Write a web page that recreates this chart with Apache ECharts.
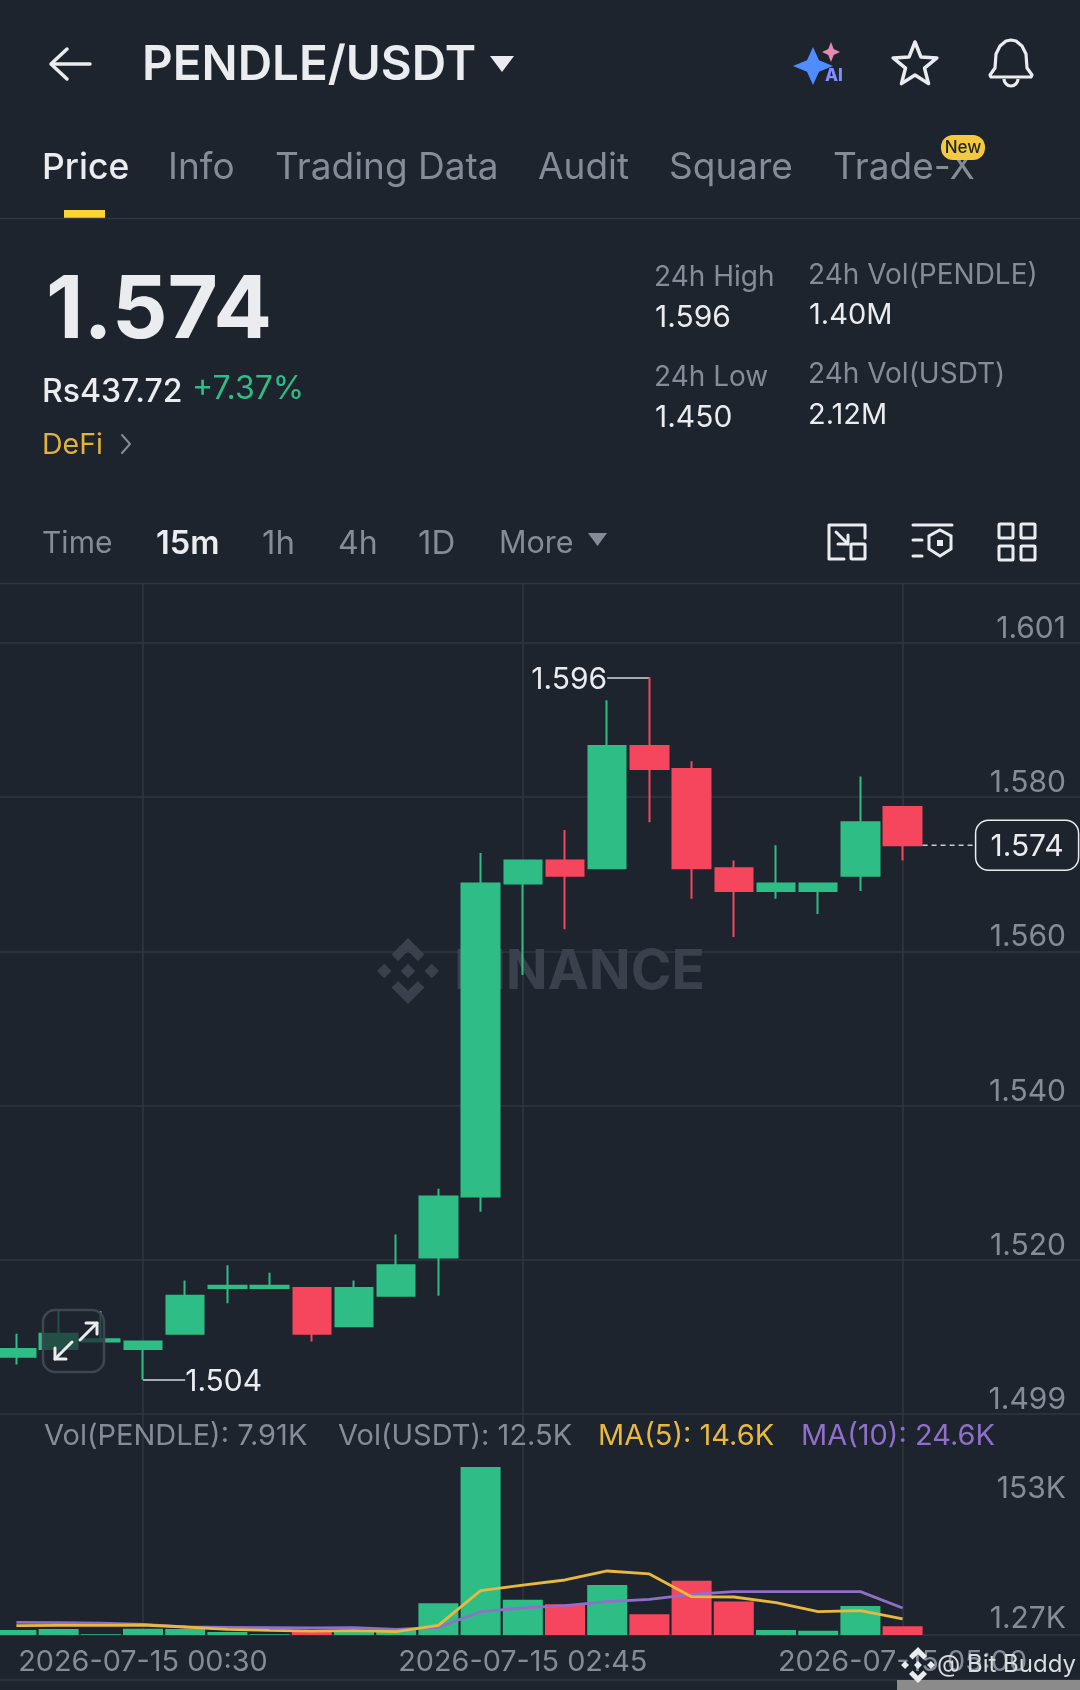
<!DOCTYPE html>
<html><head><meta charset="utf-8">
<style>html,body{margin:0;padding:0;background:#1e242e}#c{width:1080px;height:1690px}</style>
<script src="https://cdn.jsdelivr.net/npm/echarts@6/dist/echarts.min.js"></script>
</head><body><div id="c"></div>
<script>
const times = ['2026-07-14 23:45','2026-07-15 00:00','2026-07-15 00:15','2026-07-15 00:30','2026-07-15 00:45','2026-07-15 01:00','2026-07-15 01:15','2026-07-15 01:30','2026-07-15 01:45','2026-07-15 02:00','2026-07-15 02:15','2026-07-15 02:30','2026-07-15 02:45','2026-07-15 03:00','2026-07-15 03:15','2026-07-15 03:30','2026-07-15 03:45','2026-07-15 04:00','2026-07-15 04:15','2026-07-15 04:30','2026-07-15 04:45','2026-07-15 05:00','2026-07-15 05:15','2026-07-15 05:30','2026-07-15 05:45','2026-07-15 06:00'];
const opens  = [1.507,1.508,1.5090,1.508,1.510,1.5160,1.5160,1.516,1.511,1.515,1.520,1.528,1.569,1.572,1.571,1.587,1.584,1.571,1.568,1.568,1.570,1.579];
const closes = [1.508,1.510,1.5093,1.509,1.515,1.5163,1.5163,1.510,1.516,1.519,1.528,1.569,1.572,1.570,1.587,1.584,1.571,1.568,1.569,1.569,1.577,1.574];
const lows   = [1.506,1.507,1.5090,1.504,1.510,1.514,1.516,1.509,1.511,1.515,1.515,1.526,1.557,1.563,1.571,1.577,1.567,1.562,1.567,1.565,1.568,1.572];
const highs  = [1.510,1.513,1.513,1.509,1.517,1.519,1.518,1.516,1.517,1.523,1.529,1.573,1.572,1.576,1.593,1.596,1.585,1.572,1.574,1.569,1.583,1.579];
const volumes = [4500,5500,600,5800,5500,2700,600,4500,3300,4500,29000,153000,32000,28000,45500,18800,49500,30400,4500,3900,26400,7910];
const ma5  = [8500,8800,8800,9100,7300,5200,4200,3600,3900,3000,8800,40400,45500,50100,58300,55600,34900,34600,29400,21200,22200,14600];
const ma10 = [11500,11200,10900,9700,7300,7000,6700,6400,6700,5200,7000,21200,24600,26700,30400,32500,37000,39500,39500,39500,39500,24600];
const priceTicks  = [1.4995,1.5197,1.5399,1.5601,1.5803,1.6005];
const priceLabels = ['1.499','1.520','1.540','1.560','1.580','1.601'];
const volTicks  = [1270,153000];
const volLabels = ['1.27K','153K'];
const lastPrice = 1.574, highMark = 1.596, lowMark = 1.504;

const BG='#1e242e',GRID='#2f3641',GREY='#858c97',WHITE='#eaecef',GREEN='#2ebd85',RED='#f6465d',FONT='Inter, "Noto Sans", sans-serif';
const T=(text,x,y,size,fill,weight,align)=>({type:'text',z:10,style:{text,x,y,fill,fontSize:size,fontWeight:weight||400,fontFamily:FONT,textAlign:align||'left',textVerticalAlign:'middle'}});
const L=(pts,stroke,w,z)=>({type:'polyline',z:z||10,shape:{points:pts},style:{stroke,fill:null,lineWidth:w||3,lineCap:'round',lineJoin:'round'}});
const P=(pts,fill,z)=>({type:'polygon',z:z||10,shape:{points:pts},style:{fill}});
const R=(x,y,w,h,r,fill,stroke,lw,z)=>({type:'rect',z:z||10,shape:{x,y,width:w,height:h,r},style:{fill:fill||null,stroke:stroke||null,lineWidth:lw||0}});
function logo(cx,cy,r,c,z){
  const d=(x,y,s)=>P([[x,y-s],[x+s,y],[x,y+s],[x-s,y]],c,z);
  return [d(cx,cy,r*0.22),d(cx-r*0.72,cy,r*0.22),d(cx+r*0.72,cy,r*0.22),
    P([[cx,cy-r],[cx+r*0.5,cy-r*0.5],[cx+r*0.3,cy-r*0.3],[cx,cy-r*0.6],[cx-r*0.3,cy-r*0.3],[cx-r*0.5,cy-r*0.5]],c,z),
    P([[cx,cy+r],[cx+r*0.5,cy+r*0.5],[cx+r*0.3,cy+r*0.3],[cx,cy+r*0.6],[cx-r*0.3,cy+r*0.3],[cx-r*0.5,cy+r*0.5]],c,z)];
}
function star(cx,cy,ro,ri){const p=[];for(let i=0;i<10;i++){const a=-Math.PI/2+i*Math.PI/5,r=i%2?ri:ro;p.push([cx+r*Math.cos(a),cy+r*Math.sin(a)]);}return p;}
function spark(cx,cy,rx,ry){const k=0.3;return [[cx,cy-ry],[cx+rx*k,cy-ry*k],[cx+rx,cy],[cx+rx*k,cy+ry*k],[cx,cy+ry],[cx-rx*k,cy+ry*k],[cx-rx,cy],[cx-rx*k,cy-ry*k]];}

const ui=[
  L([[90,64],[52,64]],WHITE,3.5),L([[67,49],[51,64],[67,79]],WHITE,3.5),
  T('PENDLE/USDT',142,66,47.6,WHITE,600),
  P([[490,56],[514,56],[502,72]],WHITE),
  P(spark(813,66,20,19),'#4f8dff'),P(spark(831,52,9,10),'#e58bb0'),
  T('AI',825,76,17,'#7f8dff',800),
  {type:'polygon',z:10,shape:{points:star(915,65,23,10)},style:{fill:null,stroke:WHITE,lineWidth:3.5,lineJoin:'round'}},
  {type:'polygon',z:10,shape:{points:[[990,75],[995,68],[996,54],[1000,46],[1006,41],[1011,40],[1016,41],[1022,46],[1026,54],[1027,68],[1032,75],[1031,77],[991,77]]},style:{fill:null,stroke:WHITE,lineWidth:3.2,lineJoin:'round'}},
  {type:'arc',z:10,shape:{cx:1011,cy:79,r:7,startAngle:0,endAngle:Math.PI},style:{fill:null,stroke:WHITE,lineWidth:3.2}},
  T('Price',42,168,35.5,WHITE,500),T('Info',168,168,37,GREY),T('Trading Data',275,168,37,GREY),T('Audit',538,168,37,GREY),T('Square',669,168,37,GREY),T('Trade-X',833,168,37,GREY),
  R(941,135,44,25,12,'#f5c93f'),T('New',963,148,17,'#1e242e',500,'center'),
  R(64,210,41,8,0,'#fcd535'),
  L([[0,218.5],[1080,218.5]],GRID,1.5),
  T('1.574',46,312,87,WHITE,700),
  T('Rs437.72',42,392,32,WHITE,500),T('+7.37%',192,389,32,GREEN,400),
  T('DeFi',42,445,28.5,'#e2b33c',400),L([[122,435],[130,444],[122,453]],GREY,2),
  T('24h High',654,278,28,GREY),T('1.596',655,318,30,WHITE),T('24h Low',654,378,28,GREY),T('1.450',655,418,30,WHITE),
  T('24h Vol(PENDLE)',808,276,28,GREY),T('1.40M',809,315,29,WHITE),T('24h Vol(USDT)',808,375,28,GREY),T('2.12M',808,415,29,WHITE),
  T('Time',42,544,30,GREY),T('15m',156,544,32.5,WHITE,600),T('1h',262,544,33,GREY),T('4h',338,544,32,GREY),T('1D',418,544,33,GREY),T('More',499,544,30.5,GREY),
  P([[588,533],[607,533],[597.5,546]],GREY),
  L([[829,558],[829,525],[865,525],[865,538]],WHITE,3),L([[829,559],[844,559]],WHITE,3),L([[836,532],[848,544]],WHITE,3),L([[838,544],[848,544],[848,535]],WHITE,3),
  R(851,544,14,15,1,null,WHITE,3),
  L([[913,525],[952,525]],WHITE,3),L([[913,540],[922,540]],WHITE,3),L([[913,556],[922,556]],WHITE,3),
  {type:'polygon',z:10,shape:{points:[[940,530],[951,536],[951,549],[940,556],[929,549],[929,536]]},style:{fill:null,stroke:WHITE,lineWidth:3}},
  R(937,540,6,6,0,WHITE),
  R(999,524,14,14,1,null,WHITE,3),R(1021,524,14,14,1,null,WHITE,3),R(999,546,14,14,1,null,WHITE,3),R(1021,546,14,14,1,null,WHITE,3),
  L([[0,583.5],[1080,583.5]],GRID,1.5),
  ...logo(408,971,33,'#3a414c',1),
  {type:'text',z:1,style:{text:'BINANCE',x:454,y:972,fill:'#3a414c',fontSize:55,fontWeight:700,fontFamily:FONT,textAlign:'left',textVerticalAlign:'middle'}},
  R(43,1310,61,62,12,'rgba(30,36,46,0.72)','#3d4651',2.5,20),
  L([[80,1340],[97,1323]],WHITE,3,21),L([[86,1323],[97,1323],[97,1334]],WHITE,3,21),
  L([[72,1342],[55,1359]],WHITE,3,21),L([[66,1359],[55,1359],[55,1348]],WHITE,3,21),
  T('Vol(PENDLE): 7.91K',44,1436,29,GREY),T('Vol(USDT): 12.5K',338,1436,29,GREY),T('MA(5): 14.6K',598,1436,29,'#e9b93f'),T('MA(10): 24.6K',801,1436,29,'#8f6fc9'),
  L([[0,1680],[1080,1680]],GRID,1.5),
  R(897,1680,183,10,0,'#8b8b8b'),
  ...logo(918,1665,18,WHITE,12),
  {type:'text',z:12,style:{text:'@ Bit Buddy',x:937,y:1665,fill:'#d9dce0',fontSize:24,fontFamily:FONT,textAlign:'left',textVerticalAlign:'middle'}}
];

const chart=echarts.init(document.getElementById('c'),null,{renderer:'canvas',width:1080,height:1690});
const band=42.2, cats=times.length, gridLeft=-4.7, gridW=band*cats;
const xBase=(idx,extra)=>Object.assign({type:'category',gridIndex:idx,data:times,boundaryGap:true,
  axisTick:{show:false,alignWithLabel:true},
  splitLine:{show:true,alignWithLabel:true,interval:(i)=>i%9===3,lineStyle:{color:GRID,width:1.5}}},extra);
chart.setOption({
  backgroundColor:BG,animation:false,
  grid:[{left:gridLeft,width:gridW,top:583.5,height:830.5,outerBoundsMode:'none'},{left:gridLeft,width:gridW,top:1414,height:221,outerBoundsMode:'none'}],
  xAxis:[
    xBase(0,{axisLine:{show:false},axisLabel:{show:false}}),
    xBase(1,{axisLine:{show:true,onZero:false,lineStyle:{color:GRID,width:1.5}},
      axisLabel:{show:true,interval:(i)=>i%9===3&&i<=21,color:GREY,fontSize:28.8,fontFamily:FONT,margin:12,lineHeight:30,hideOverlap:false}})
  ],
  yAxis:[
    {type:'value',gridIndex:0,position:'right',min:1.4995,max:1.60829,scale:true,
     axisLine:{show:false},axisTick:{show:false,customValues:priceTicks},
     splitLine:{show:true,lineStyle:{color:GRID,width:1.5}},
     axisLabel:{inside:true,margin:26.5,align:'right',verticalAlign:'bottom',lineHeight:28,color:GREY,fontSize:30,fontFamily:FONT,customValues:priceTicks,
       formatter:(v)=>priceLabels[priceTicks.indexOf(v)]}},
    {type:'value',gridIndex:1,position:'right',min:0,max:201270,
     axisLine:{show:false},axisTick:{show:false,customValues:volTicks},splitLine:{show:false},
     axisLabel:{inside:true,margin:26.5,align:'right',verticalAlign:'bottom',verticalAlignMaxLabel:'top',lineHeight:30,color:GREY,fontSize:30,fontFamily:FONT,customValues:volTicks,
       rich:{t:{lineHeight:44,color:GREY,fontSize:30,fontFamily:FONT}},
       formatter:(v)=>{const s=volLabels[volTicks.indexOf(v)];return v===153000?'{t|'+s+'}':s;}}}
  ],
  graphic:{elements:ui},
  series:[
    {type:'candlestick',xAxisIndex:0,yAxisIndex:0,barWidth:38,z:5,
     itemStyle:{color:GREEN,color0:RED,borderColor:GREEN,borderColor0:RED,borderWidth:2},
     data:opens.map((o,i)=>[o,closes[i],lows[i],highs[i]]),
     markLine:{silent:true,symbol:['none','none'],animation:false,lineStyle:{color:'#d5d8dc',width:1.5,type:'solid'},
       label:{show:true,position:'end',color:WHITE,fontSize:30,fontFamily:FONT,distance:0,offset:[0,2.5],formatter:(p)=>p.data.text},
       data:[
         [{coord:[15,highMark],text:highMark.toFixed(3)},{coord:[14,highMark],text:highMark.toFixed(3)}],
         [{coord:[3,lowMark],text:lowMark.toFixed(3)},{coord:[4,lowMark],text:lowMark.toFixed(3)}]
       ]}},
    {type:'custom',xAxisIndex:0,yAxisIndex:0,z:6,silent:true,encode:{x:0,y:1},clip:false,data:[[21,lastPrice]],
     renderItem:(params,api)=>{
       const p=api.coord([api.value(0),api.value(1)]);
       return {type:'group',children:[
         {type:'line',shape:{x1:p[0]+20,y1:p[1],x2:p[0]+70,y2:p[1]},style:{stroke:'#c8ccd1',lineWidth:1.5,lineDash:[5,4]}},
         {type:'rect',shape:{x:p[0]+73,y:p[1]-25,width:103,height:50,r:13},style:{fill:BG,stroke:WHITE,lineWidth:1.5}},
         {type:'text',style:{text:api.value(1).toFixed(3),x:p[0]+124.5,y:p[1]+2,fill:WHITE,fontSize:30,fontFamily:FONT,textAlign:'center',textVerticalAlign:'middle'}}
       ]};
     }},
    {type:'bar',xAxisIndex:1,yAxisIndex:1,barWidth:40,z:3,data:volumes,
     itemStyle:{color:(p)=>closes[p.dataIndex]>=opens[p.dataIndex]?GREEN:RED}},
    {type:'line',xAxisIndex:1,yAxisIndex:1,z:5,data:ma5,symbol:'none',lineStyle:{color:'#e9b93f',width:2.8}},
    {type:'line',xAxisIndex:1,yAxisIndex:1,z:4,data:ma10,symbol:'none',lineStyle:{color:'#8f6fc9',width:2.8}}
  ]
});
</script></body></html>
